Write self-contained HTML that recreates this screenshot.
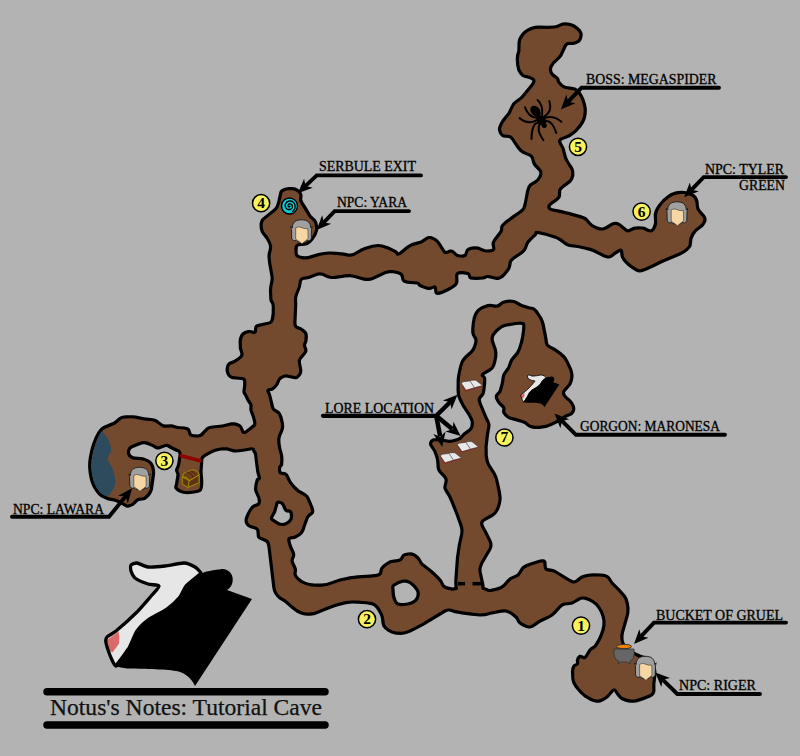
<!DOCTYPE html>
<html><head><meta charset="utf-8"><style>
html,body{margin:0;padding:0;background:#b3b3b3;}
svg{display:block;}
</style></head><body>
<svg width="800" height="756" viewBox="0 0 800 756">
<rect width="800" height="756" fill="#b3b3b3"/>
<defs><g id="cow"><path d="M131,565 C131.7,564.1 135.0,562.8 137,563 C139.0,563.2 144.7,566.6 148,567 C151.3,567.4 160.8,566.5 165,566 C169.2,565.5 180.5,562.9 184,563 C187.5,563.1 193.0,565.8 195,567 C197.0,568.2 200.5,572.1 201,573 C201.5,573.9 200.8,573.5 199,575 C197.2,576.5 188.2,583.4 186,586 C183.8,588.6 182.2,594.3 180,597 C177.8,599.7 170.7,606.3 167,609 C163.3,611.7 151.5,617.4 148,620 C144.5,622.6 139.2,627.7 137,631 C134.8,634.3 131.2,644.3 129,648 C126.8,651.7 119.5,660.9 118,663 C116.5,665.1 116.7,666.4 116,666 C115.3,665.6 113.2,662.7 112,660 C110.8,657.3 106.6,645.7 106,643 C105.4,640.3 105.8,638.4 107,637 C108.2,635.6 112.5,633.9 116,631 C119.5,628.1 132.8,616.2 137,612 C141.2,607.8 149.4,598.0 152,595 C154.6,592.0 159.5,587.3 159,586 C158.5,584.7 150.8,584.9 148,584 C145.2,583.1 137.0,579.5 135,578 C133.0,576.5 131.5,572.5 131,571 C130.5,569.5 130.3,565.9 131,565Z" fill="#e6e6e6"/><path d="M106.5,640.5 L118.5,631.5 Q120,637 119,643.5 Q116,648 112.4,652.5 L108.5,650 Z" fill="#d96a6a"/><path d="M131,565 C131.7,564.1 135.0,562.8 137,563 C139.0,563.2 144.7,566.6 148,567 C151.3,567.4 160.8,566.5 165,566 C169.2,565.5 180.5,562.9 184,563 C187.5,563.1 193.0,565.8 195,567 C197.0,568.2 200.5,572.1 201,573 C201.5,573.9 200.8,573.5 199,575 C197.2,576.5 188.2,583.4 186,586 C183.8,588.6 182.2,594.3 180,597 C177.8,599.7 170.7,606.3 167,609 C163.3,611.7 151.5,617.4 148,620 C144.5,622.6 139.2,627.7 137,631 C134.8,634.3 131.2,644.3 129,648 C126.8,651.7 119.5,660.9 118,663 C116.5,665.1 116.7,666.4 116,666 C115.3,665.6 113.2,662.7 112,660 C110.8,657.3 106.6,645.7 106,643 C105.4,640.3 105.8,638.4 107,637 C108.2,635.6 112.5,633.9 116,631 C119.5,628.1 132.8,616.2 137,612 C141.2,607.8 149.4,598.0 152,595 C154.6,592.0 159.5,587.3 159,586 C158.5,584.7 150.8,584.9 148,584 C145.2,583.1 137.0,579.5 135,578 C133.0,576.5 131.5,572.5 131,571 C130.5,569.5 130.3,565.9 131,565Z" fill="none" stroke="#000" stroke-width="3.3" stroke-linejoin="round"/><path d="M199,575 C204,571 215,570 222,569 C230,569 234,576 232.5,582 C232,586 229,589 227,590 L252,599 L195,686 C191,677 183,672 176,671 C165,669 140,669 127,668.5 L115,666.5 L118,663 C124,655 126,646 129,648 C133,638 137,631 148,620 C158,613 167,609 180,597 C184,592 186,586 199,575 Z" fill="#000"/></g></defs>
<path d="M244.3,430.9 242.0,425.9 240.2,424.2 238.2,423.2 236.0,422.6 233.6,422.2 231.3,422.3 222.2,424.4 212.5,425.4 209.5,426.0 207.5,426.8 206.0,427.8 200.1,433.8 197.8,434.4 194.3,434.3 192.4,433.9 191.6,433.4 190.2,429.6 189.6,428.5 188.4,427.5 187.1,426.9 184.2,426.4 177.8,425.9 172.0,424.2 165.5,424.5 163.8,424.3 162.2,423.4 157.0,419.5 154.2,418.4 151.2,417.9 144.1,417.3 135.9,415.6 132.9,415.2 125.5,415.2 121.3,416.0 118.6,417.4 113.9,421.6 104.4,425.6 102.4,426.6 100.6,428.0 98.8,429.9 97.2,432.2 94.5,437.6 92.0,444.1 90.4,449.6 88.9,456.8 88.2,462.1 88.1,467.5 88.7,473.5 89.9,479.6 91.0,483.3 92.5,486.8 95.2,491.3 98.2,495.0 100.6,496.9 102.9,498.2 108.1,500.4 113.8,501.6 116.8,502.5 119.5,503.7 126.1,507.5 127.0,507.8 128.3,507.8 131.2,506.8 134.2,505.2 137.8,501.7 138.8,501.1 143.8,500.3 146.0,499.4 148.0,497.8 149.7,495.9 151.8,492.7 153.0,489.5 155.1,474.4 155.1,470.3 154.3,466.6 152.8,463.3 151.4,461.5 148.6,459.4 144.4,457.7 141.5,457.1 134.2,456.5 132.0,455.6 130.5,454.0 130.1,452.3 130.2,451.1 130.9,449.4 132.4,448.2 141.2,444.7 143.1,444.2 144.7,444.2 148.6,445.5 152.3,447.1 154.9,448.8 156.8,449.5 159.2,449.4 165.7,447.0 166.9,446.9 169.3,448.4 175.9,451.7 178.1,452.5 178.4,453.3 178.4,455.4 177.5,461.8 176.8,465.3 175.4,468.4 175.0,469.8 175.2,471.5 176.2,473.8 176.4,474.8 175.0,483.7 174.2,486.5 174.3,487.9 174.7,488.9 175.7,490.1 177.0,491.2 179.2,492.4 183.1,493.8 187.2,494.2 192.9,493.8 198.3,492.8 200.6,491.8 201.6,490.9 202.2,489.8 202.9,487.7 203.2,485.0 203.3,480.8 202.6,471.5 203.4,459.5 203.8,458.4 205.4,456.9 210.1,454.2 214.3,452.3 217.5,451.3 221.2,450.6 224.8,450.4 226.9,450.5 233.5,452.4 236.3,452.6 241.6,452.1 252.0,450.3 252.7,452.5 253.7,453.6 254.0,454.7 256.1,471.2 256.7,474.1 257.7,477.4 256.3,478.3 255.7,479.5 254.5,484.1 254.0,488.4 254.0,489.8 254.6,492.1 257.3,497.9 257.8,501.7 257.3,503.0 253.4,504.5 251.5,505.7 249.1,508.9 246.7,513.3 245.1,517.0 244.5,519.8 244.7,522.5 245.8,524.8 247.0,526.2 248.4,527.3 250.5,528.3 254.9,529.6 256.0,530.2 256.4,531.3 256.8,536.6 257.4,537.9 258.2,538.8 260.3,540.1 264.4,541.7 266.1,542.7 266.5,543.4 267.0,544.9 267.6,548.6 272.3,588.1 273.2,591.6 274.2,593.8 276.2,596.5 278.9,599.2 284.0,602.3 292.4,609.4 296.5,612.4 300.0,614.2 303.4,615.3 306.8,615.8 310.4,615.8 314.2,615.2 316.3,614.5 326.8,610.2 334.8,607.3 339.0,605.9 346.0,604.3 352.1,603.6 358.0,603.7 366.1,604.3 371.3,605.2 373.5,606.1 374.9,607.2 376.4,609.0 378.0,611.4 380.0,615.3 380.8,617.7 381.4,622.8 382.0,625.5 382.7,626.9 384.4,629.1 387.5,631.6 391.4,633.5 395.8,634.7 400.8,635.0 404.3,634.6 406.4,634.0 410.6,632.4 415.0,630.3 423.7,625.8 444.9,612.9 446.6,612.0 448.2,611.6 449.6,611.6 454.9,613.2 461.8,614.4 471.4,615.8 480.0,616.6 485.5,616.2 490.8,614.8 501.2,612.7 504.4,612.5 505.7,612.6 507.0,612.9 509.5,614.1 511.9,615.7 514.9,618.2 515.9,619.4 516.9,621.6 518.0,623.3 520.1,625.0 522.6,626.5 525.5,627.8 528.4,628.6 530.3,628.6 533.3,627.6 540.8,622.4 549.8,618.2 552.9,616.3 555.8,613.7 560.7,608.2 562.8,606.4 564.9,605.6 569.7,605.1 572.6,604.5 581.2,599.8 583.2,599.6 585.5,599.9 588.9,601.2 592.2,603.0 595.3,605.6 597.9,608.7 600.0,612.4 601.6,616.8 602.4,621.1 602.3,625.3 601.4,629.6 599.9,634.0 597.8,638.7 594.7,644.1 593.4,645.5 590.4,647.5 588.7,649.0 584.9,655.3 584.2,656.1 580.6,654.7 579.4,654.8 578.0,655.8 576.7,657.6 575.9,659.7 575.8,661.0 576.1,663.0 573.2,664.6 572.0,666.3 571.3,668.6 570.9,671.4 571.3,678.9 572.3,683.2 573.6,685.6 575.2,688.1 579.7,693.3 584.5,697.5 590.5,700.9 593.3,702.1 596.2,702.8 598.8,702.8 600.3,702.5 602.7,701.6 605.0,700.3 608.5,697.8 613.3,692.3 614.2,691.6 615.8,694.2 618.4,697.4 620.8,699.7 622.8,700.7 625.4,701.7 628.2,702.4 631.1,702.8 633.8,702.8 636.6,702.4 644.2,699.9 650.3,697.4 652.8,695.9 654.1,694.7 655.0,693.0 655.5,690.8 655.4,683.9 656.6,673.9 656.2,669.7 654.8,665.1 652.4,660.1 650.4,658.0 648.5,656.9 641.5,655.1 636.9,653.1 627.6,647.9 626.3,646.6 625.2,644.6 624.3,642.3 623.6,639.7 623.5,635.7 624.0,632.7 628.7,616.2 629.4,612.9 629.6,607.8 628.8,602.8 627.5,598.3 625.4,594.7 620.2,588.9 613.2,581.9 610.0,577.1 608.0,575.2 605.1,574.0 601.3,573.5 593.6,573.3 587.7,573.8 583.8,574.7 581.3,575.6 579.0,577.0 575.3,580.0 574.0,580.4 573.2,580.3 569.9,578.8 557.2,570.9 554.7,569.6 552.0,568.8 547.5,568.1 547.0,567.6 546.8,566.9 546.5,562.2 546.0,560.7 544.6,559.5 543.3,559.2 542.0,559.2 539.0,559.7 529.6,562.7 526.8,563.7 524.2,565.0 522.0,566.6 521.0,567.8 518.2,572.3 516.9,573.8 515.4,574.7 511.3,576.4 509.1,577.7 506.9,579.7 503.2,584.1 501.2,585.6 500.0,586.2 495.5,587.8 489.9,588.9 488.7,588.8 487.0,587.9 484.7,587.2 484.4,584.3 481.6,571.4 481.6,569.1 481.9,567.3 483.1,564.0 491.4,549.7 492.4,546.8 492.6,545.0 492.4,543.1 491.3,539.9 486.7,530.8 484.3,526.6 483.4,524.3 483.3,523.4 483.5,522.7 484.0,521.9 485.2,521.0 492.7,516.9 494.5,515.6 496.2,514.1 497.3,512.5 499.2,509.2 500.5,505.6 501.3,501.9 501.7,498.2 501.1,492.6 498.7,481.4 497.6,477.3 495.6,472.7 491.4,466.3 489.6,463.2 488.6,460.1 487.8,455.2 487.7,446.6 489.1,434.6 490.4,427.1 490.5,424.5 489.6,421.3 487.6,417.2 481.7,403.2 480.8,399.7 481.1,398.7 483.5,396.0 484.3,394.7 484.9,393.1 485.5,389.8 486.2,383.8 486.3,378.7 486.1,377.5 485.5,376.4 484.2,375.1 490.8,371.3 493.3,369.1 495.0,366.3 496.3,362.3 497.4,356.3 497.4,352.0 496.7,348.4 494.0,341.1 493.7,338.6 494.1,336.8 494.7,335.6 497.5,332.1 501.7,328.6 503.8,327.5 505.9,326.8 515.9,325.1 519.6,324.8 522.2,325.0 522.1,329.6 521.1,336.7 519.5,343.4 518.0,348.2 516.1,352.1 510.3,359.1 509.3,361.3 507.4,366.8 503.5,372.2 502.4,374.3 501.7,376.6 500.9,382.2 498.9,389.8 498.2,391.2 495.5,394.1 494.7,396.0 494.7,397.3 495.1,399.1 497.0,402.6 498.2,404.3 502.3,408.2 502.0,411.2 502.1,412.4 502.8,414.0 504.6,416.3 507.0,418.3 509.2,419.4 521.0,422.7 524.3,423.9 527.7,426.8 529.5,427.8 531.4,428.4 534.4,428.9 539.6,429.0 546.2,427.9 551.6,426.0 558.8,422.4 566.7,417.4 571.5,415.6 572.9,414.4 574.0,413.1 574.8,411.6 575.3,409.8 575.3,408.0 574.9,406.1 573.2,402.5 571.0,399.8 566.8,396.0 565.5,394.2 565.1,393.1 565.1,392.4 565.6,391.4 570.8,385.7 571.9,383.4 572.8,380.9 573.5,377.1 573.5,374.4 573.0,371.7 572.2,368.9 568.4,360.7 566.5,357.6 564.9,355.5 561.9,352.8 558.6,350.3 555.3,348.0 549.9,345.2 548.4,343.7 548.0,342.6 547.5,338.4 544.7,324.1 543.8,321.1 542.2,317.6 539.6,313.4 537.7,310.6 535.4,308.2 533.3,307.1 530.0,306.4 522.1,303.9 517.3,301.2 515.1,300.2 512.4,299.7 509.6,299.6 505.6,300.1 503.0,300.7 501.0,301.7 497.9,304.1 496.8,304.6 495.4,304.6 490.1,303.7 487.5,304.1 484.8,304.9 481.9,306.0 479.5,307.4 477.4,309.1 475.7,311.0 474.3,313.3 472.8,317.2 471.8,322.6 471.2,328.8 471.2,332.3 471.5,333.9 472.0,335.4 474.3,339.7 474.3,341.4 473.9,343.6 472.7,347.1 470.8,350.2 464.2,356.2 462.0,358.9 460.7,361.3 459.2,366.0 457.9,371.2 456.9,376.9 456.6,380.6 456.5,390.0 456.8,394.1 457.2,396.3 459.1,400.9 461.9,406.4 467.5,414.9 469.8,419.2 470.5,421.4 470.7,422.8 470.5,425.2 470.1,426.7 469.0,428.6 462.9,433.1 460.0,436.5 457.1,438.0 452.1,439.5 449.0,439.8 441.8,438.4 437.2,438.1 433.9,438.2 432.6,438.5 431.0,439.5 429.8,440.8 429.1,442.4 429.0,444.3 429.3,445.5 433.3,451.8 435.4,457.6 436.1,460.8 436.6,467.6 437.4,470.7 439.2,473.3 443.4,477.8 444.5,479.5 444.6,481.1 443.3,486.7 443.4,488.3 443.8,489.6 445.0,492.0 447.9,496.5 450.4,501.9 455.6,515.1 459.4,525.7 460.1,528.2 460.4,531.0 460.1,534.3 457.8,544.6 455.9,557.4 454.3,579.5 454.2,583.4 454.5,587.1 452.8,587.5 450.4,587.1 447.3,586.3 445.0,585.2 444.2,584.3 442.0,580.0 439.5,577.0 433.0,570.8 423.1,562.9 422.0,561.4 419.9,557.8 418.5,556.2 416.2,554.3 414.5,553.2 412.4,552.5 411.2,552.3 407.6,552.4 404.2,553.2 402.1,554.4 400.0,557.9 399.3,558.6 397.6,559.0 390.8,560.0 389.3,560.6 386.8,561.9 383.5,564.3 380.8,566.9 379.7,569.2 379.1,572.6 378.0,573.3 376.5,573.7 370.3,574.6 357.9,575.2 349.7,576.3 339.6,578.5 326.4,582.9 321.3,583.6 314.4,583.5 310.1,583.0 307.6,582.4 305.4,581.7 302.5,580.2 299.0,577.5 297.6,575.9 296.6,574.0 297.0,570.7 296.9,568.6 296.1,566.4 294.1,562.3 293.7,560.8 293.8,559.8 295.1,556.6 295.3,554.3 294.7,552.1 292.1,546.2 290.8,541.9 290.4,539.6 291.0,539.4 294.7,539.0 296.0,538.5 300.5,535.8 302.9,533.4 304.6,530.2 305.9,525.9 308.9,518.1 309.7,516.9 313.4,514.1 314.3,512.1 314.4,510.4 313.7,507.8 309.8,498.2 308.2,495.5 305.6,493.3 299.5,489.8 295.4,486.0 292.0,482.1 290.1,478.6 288.2,474.6 286.8,473.0 284.9,472.1 281.7,471.8 281.4,471.6 281.1,470.0 281.2,467.6 282.5,466.4 283.2,464.9 283.5,459.3 283.1,454.7 281.6,449.5 281.0,446.4 280.5,442.8 280.4,439.3 281.1,436.1 283.2,431.2 284.0,428.7 284.2,426.0 283.9,422.7 282.5,416.7 280.8,412.9 279.2,411.1 275.0,408.5 274.3,407.4 271.7,396.7 270.8,393.6 269.7,391.3 271.6,391.0 273.1,390.4 275.8,388.2 278.6,384.8 280.5,380.3 282.4,378.7 284.4,377.8 286.3,377.5 294.9,379.3 296.6,379.3 298.1,378.6 299.9,376.8 301.2,375.0 302.1,373.0 302.4,370.2 300.9,362.2 301.0,360.8 301.3,359.8 306.4,353.6 307.4,351.5 307.4,349.3 306.0,345.3 307.5,341.3 307.9,337.5 307.8,335.2 307.4,333.3 307.0,332.2 305.1,330.0 301.6,327.5 297.3,325.8 296.7,324.7 296.5,322.6 297.3,304.6 297.1,298.2 297.9,295.1 300.9,287.3 302.0,281.3 302.4,280.5 303.2,280.1 309.2,279.1 316.2,276.2 318.8,275.5 320.0,275.4 322.1,275.8 327.5,278.3 331.1,279.1 335.6,278.9 345.3,277.4 349.9,277.2 354.3,278.0 363.7,280.7 366.2,281.0 369.0,281.0 371.7,280.5 374.3,279.6 385.9,274.0 389.6,273.2 393.1,273.3 397.6,274.2 400.2,275.6 400.7,276.8 401.5,280.3 402.3,281.6 403.7,282.7 407.1,283.7 417.1,284.6 417.5,284.7 418.2,286.2 419.3,287.0 423.8,288.8 427.7,289.9 430.3,290.0 434.0,288.6 434.3,292.2 434.9,293.7 435.7,294.4 436.8,294.8 437.9,294.9 439.9,294.7 443.5,293.5 449.4,290.7 453.0,288.6 456.2,286.2 457.4,284.8 458.2,283.2 458.5,281.4 458.3,275.6 458.5,274.9 459.0,274.5 462.6,274.2 467.4,275.0 467.6,275.2 468.4,277.8 469.1,278.8 470.4,279.5 472.0,279.8 476.9,280.0 483.1,279.6 485.0,279.2 486.6,278.2 487.5,278.1 496.5,279.9 498.3,279.9 499.8,279.6 501.6,278.8 503.2,277.7 505.7,275.3 509.8,269.9 511.0,267.2 511.8,262.8 512.7,261.0 515.0,259.0 521.8,254.5 524.7,252.1 526.5,249.4 528.3,244.8 529.3,242.9 531.9,240.0 536.7,235.6 537.5,234.1 546.5,236.1 556.4,239.3 559.3,240.9 565.4,245.5 568.3,246.8 571.0,247.3 577.7,248.1 584.3,249.5 589.7,250.9 593.3,252.2 603.7,257.4 607.4,258.6 609.5,258.6 612.1,257.6 615.7,254.7 620.1,251.9 620.4,255.4 620.9,257.5 622.3,260.0 624.0,262.2 627.8,265.9 631.6,268.8 635.9,271.5 637.8,272.2 639.1,272.4 641.9,272.2 646.1,270.8 653.4,267.5 663.0,262.7 680.3,255.5 685.2,252.8 687.8,250.8 690.0,248.6 691.2,246.8 691.7,245.6 692.5,239.1 694.3,235.0 695.9,232.7 697.1,231.3 702.5,227.3 704.0,225.7 705.9,222.5 706.5,220.9 706.6,219.4 706.3,217.5 704.9,214.9 700.4,209.8 699.5,208.3 699.0,206.6 698.5,201.1 697.8,199.1 696.5,196.6 695.1,195.1 693.4,193.8 691.1,192.7 688.5,191.8 684.4,190.9 681.8,190.8 677.8,191.0 675.2,191.5 671.6,192.8 669.2,194.1 666.0,196.4 662.9,199.1 658.2,204.5 656.2,207.6 654.8,210.2 654.0,213.1 653.7,215.3 654.0,221.7 653.8,223.7 652.5,227.5 651.5,228.8 650.5,229.4 649.1,229.0 644.5,226.8 642.1,226.4 638.8,226.2 635.6,226.4 633.4,226.8 628.8,229.0 627.6,229.3 620.5,223.4 618.2,222.3 616.0,221.7 613.6,222.0 611.3,222.8 605.9,226.1 603.4,227.2 602.3,227.4 600.1,227.2 596.3,226.0 592.9,224.2 591.2,222.8 587.1,218.1 585.8,217.1 583.3,215.9 580.6,215.0 569.7,212.1 559.3,209.6 552.3,208.2 550.9,207.6 550.4,207.2 550.9,206.1 551.8,205.0 557.8,200.7 560.0,198.5 560.8,197.0 561.1,195.8 561.2,191.3 561.8,189.7 563.7,187.9 569.8,183.5 571.3,182.2 573.1,179.5 574.4,175.7 574.3,171.6 573.6,168.7 572.8,167.0 569.1,161.4 567.7,158.8 566.7,156.1 564.5,147.7 561.5,142.2 561.3,141.0 563.2,139.8 567.4,138.3 570.3,136.9 574.5,134.0 577.6,131.3 581.3,126.9 583.9,123.0 585.7,118.9 586.6,114.5 586.9,111.5 586.8,108.5 586.0,103.9 584.0,98.1 582.2,94.4 580.6,92.0 577.8,89.0 575.2,87.5 571.9,86.7 566.2,85.9 564.3,85.2 562.8,84.2 559.9,81.1 559.5,78.9 558.6,77.3 553.2,73.1 552.4,71.6 552.1,69.9 552.3,67.8 554.0,64.8 555.1,63.4 560.6,58.3 562.2,56.2 567.2,45.7 568.6,45.1 573.4,44.9 576.7,44.0 579.2,42.8 580.8,41.2 581.7,39.4 582.4,37.3 582.7,34.9 582.6,33.6 582.2,32.2 581.1,30.1 578.1,27.0 574.7,24.6 572.2,23.5 569.5,22.8 565.4,22.3 563.0,22.4 561.7,22.8 556.5,24.9 553.8,25.5 547.8,25.8 538.4,25.5 535.1,25.8 532.2,26.5 529.5,27.5 527.0,28.7 524.8,30.3 522.7,32.1 520.8,34.3 519.3,36.7 518.1,39.2 517.5,42.4 517.3,50.6 516.0,55.3 515.7,58.7 516.1,65.0 517.1,69.7 517.8,71.5 519.3,73.9 520.6,75.6 522.0,76.8 524.2,77.8 529.3,79.1 531.8,80.3 532.3,80.8 532.3,81.3 531.3,83.2 527.6,88.0 521.6,95.3 519.7,97.2 514.5,100.9 512.6,102.7 511.8,103.9 507.6,112.4 502.1,119.3 499.6,123.6 498.2,127.0 497.9,129.1 498.0,130.4 499.0,133.6 501.0,136.3 503.1,137.5 508.5,138.1 509.8,138.5 511.3,140.0 516.9,148.5 519.7,151.7 522.1,153.6 528.6,156.3 530.2,157.3 531.0,158.6 532.0,162.6 533.0,164.9 534.8,167.2 538.5,171.1 539.2,172.5 539.3,173.9 538.4,176.3 536.6,178.9 535.0,180.2 530.0,183.3 528.7,184.6 527.6,186.2 526.1,190.6 523.9,202.5 522.6,207.0 522.0,208.2 518.9,211.0 511.8,215.8 505.4,220.6 502.1,223.5 500.6,225.4 500.2,226.6 500.0,229.5 499.6,230.7 493.7,238.5 492.0,241.4 491.6,242.9 491.5,244.2 492.2,248.2 492.0,248.7 490.1,249.3 486.2,249.4 484.4,249.0 478.4,246.6 475.8,246.3 471.8,246.6 468.3,247.6 466.3,248.9 465.5,250.2 464.4,253.7 464.1,254.1 462.3,254.5 459.6,254.4 457.5,253.7 453.9,250.5 451.9,249.5 450.7,249.4 449.6,249.6 446.1,251.0 445.0,249.9 440.3,242.4 438.2,239.9 435.7,238.0 433.5,236.9 431.2,236.1 429.0,235.9 427.6,236.2 426.3,236.7 420.7,240.4 412.4,242.8 409.3,244.2 406.1,246.3 400.1,251.3 398.4,252.4 397.8,251.4 396.8,250.5 388.8,246.6 382.4,244.4 378.0,243.9 372.1,244.7 364.5,246.9 360.8,248.5 354.1,252.4 352.7,253.0 350.4,253.6 348.5,253.6 344.0,252.6 336.5,251.7 331.6,251.4 328.4,251.5 323.8,252.0 318.0,253.0 308.1,256.0 304.5,256.3 300.9,255.8 299.1,255.2 298.0,254.2 297.6,252.2 297.8,247.2 298.1,246.7 298.9,246.3 304.9,245.8 307.8,244.9 310.9,242.7 313.4,239.9 316.6,235.0 318.1,230.6 318.3,227.0 317.4,222.6 315.9,219.5 312.1,216.1 311.0,214.8 307.0,207.8 303.1,201.7 302.2,199.5 302.6,195.8 302.3,193.9 301.3,191.9 299.2,189.7 297.5,188.5 295.5,187.6 292.3,187.1 289.0,187.0 286.0,187.5 283.9,188.1 281.4,189.3 280.0,190.6 279.3,192.1 277.0,202.5 275.6,206.2 274.4,207.9 273.0,209.2 262.2,217.9 261.4,218.8 260.3,220.7 259.8,222.5 259.5,224.3 259.7,228.6 260.8,232.2 261.9,234.1 266.1,239.5 268.4,244.1 269.0,246.8 268.9,248.6 267.7,253.3 267.4,256.3 268.0,262.8 270.6,277.4 270.4,280.6 269.2,286.7 268.9,290.7 269.3,299.7 269.7,301.2 271.4,304.2 271.7,306.9 271.6,313.4 270.7,319.3 269.9,320.9 268.9,321.4 258.3,323.8 256.1,324.6 255.2,325.3 254.4,326.5 254.1,328.4 253.9,330.8 250.1,329.9 248.0,330.0 244.6,331.0 242.9,332.0 241.6,333.1 240.5,334.6 239.6,336.4 238.8,339.1 238.6,341.4 238.8,348.5 240.3,353.3 240.3,354.9 238.7,356.7 233.8,359.9 229.9,361.5 228.2,362.4 227.3,363.4 226.4,365.1 225.6,368.4 225.6,370.9 226.3,373.8 227.9,376.5 229.7,378.1 231.0,378.8 232.5,379.2 241.9,380.0 242.8,380.4 243.1,381.0 243.1,385.4 242.4,391.0 242.5,392.9 243.0,394.1 244.2,395.7 246.9,401.4 249.4,405.1 249.3,408.7 249.5,410.7 252.1,418.1 253.0,421.5 253.2,423.5 253.2,424.1 249.7,427.1 245.9,430.0ZM395.0,586.2 399.2,584.0 403.1,582.7 405.9,582.7 407.6,583.2 409.4,584.1 411.8,586.0 413.5,587.7 415.1,589.7 416.2,591.6 416.6,593.2 416.5,594.9 416.0,596.7 415.2,598.3 414.2,599.5 412.7,600.6 410.8,601.5 407.7,602.4 404.0,603.0 401.5,603.0 399.4,602.8 398.1,602.2 397.2,601.3 396.5,600.0 395.1,595.8 394.4,587.3 394.5,586.8ZM278.5,503.7 280.2,504.1 281.4,504.9 282.0,505.9 283.5,509.6 284.8,511.4 286.6,512.4 289.3,512.7 289.6,513.4 289.9,516.4 289.8,517.7 289.3,518.7 288.6,519.8 287.1,521.2 284.7,522.4 281.8,522.9 279.9,522.5 276.9,520.8 273.1,518.2 273.3,517.4 276.2,512.2Z" fill="#000" fill-rule="evenodd"/>
<path d="M177.4,487.1 178.3,488.1 180.6,489.5 183.2,490.5 185.4,490.9 188.3,491.0 194.0,490.4 197.4,489.8 199.0,489.0 199.8,487.0 200.1,484.9 200.1,480.9 199.4,471.5 200.5,458.1 201.3,456.5 202.9,454.8 208.6,451.4 211.9,449.8 215.5,448.5 222.1,447.3 224.8,447.2 227.3,447.3 233.1,449.0 236.2,449.4 244.8,448.4 250.8,447.2 253.2,447.4 254.5,448.3 255.6,451.0 256.4,451.6 256.9,453.0 259.2,470.7 261.0,477.5 261.0,478.6 260.5,479.7 259.9,480.2 258.7,480.6 257.6,484.7 257.2,488.4 257.6,491.1 260.3,497.0 260.9,499.9 261.0,501.9 260.5,503.9 259.4,505.5 258.2,506.2 254.1,507.7 252.4,509.6 250.6,512.6 248.5,517.2 247.7,520.0 247.8,521.6 248.8,523.4 250.2,524.7 256.1,526.6 258.2,528.0 259.1,529.3 259.5,530.7 259.8,535.1 260.1,536.2 260.9,536.8 265.1,538.4 267.6,539.8 268.6,540.6 269.5,542.2 270.1,544.1 270.6,546.7 275.5,587.6 276.2,590.5 277.0,592.2 278.6,594.4 281.0,596.8 286.0,599.7 294.5,607.0 298.1,609.6 301.3,611.3 304.2,612.2 307.1,612.6 310.1,612.6 313.5,612.1 315.4,611.5 325.6,607.2 335.2,603.7 339.6,602.4 345.5,601.1 351.9,600.4 358.1,600.5 366.5,601.2 372.0,602.1 375.1,603.3 377.0,604.8 379.0,607.0 380.7,609.7 382.9,614.0 383.9,616.8 385.0,624.4 386.6,626.8 389.3,628.9 392.5,630.5 396.3,631.5 400.6,631.8 403.7,631.4 405.4,631.0 409.3,629.4 413.6,627.5 422.1,623.0 443.3,610.1 445.5,609.0 447.9,608.4 450.2,608.5 455.5,610.1 462.3,611.2 471.8,612.6 480.0,613.4 484.9,613.0 490.1,611.7 500.8,609.6 504.4,609.3 506.4,609.4 508.1,609.9 511.1,611.2 515.0,614.1 518.0,616.7 520.1,620.8 521.8,622.3 526.5,624.8 528.9,625.4 529.8,625.4 530.7,625.2 532.8,624.1 539.3,619.6 548.3,615.4 551.0,613.7 553.5,611.5 558.5,605.9 561.3,603.6 564.2,602.4 569.3,601.9 571.5,601.5 573.7,600.4 577.5,598.0 580.3,596.7 583.2,596.4 586.1,596.7 590.3,598.2 594.1,600.4 597.5,603.3 600.5,606.9 602.9,611.1 604.7,615.9 605.6,620.9 605.5,625.7 604.5,630.4 602.9,635.2 600.7,640.2 597.3,645.9 595.5,648.0 591.2,651.1 587.6,657.0 585.9,658.8 584.6,659.3 583.5,659.3 580.3,658.0 579.0,660.4 579.3,662.9 578.9,664.5 577.7,665.8 575.5,666.8 575.0,667.5 574.2,670.7 574.3,677.2 574.6,679.7 575.3,681.9 577.0,685.1 581.2,690.2 585.4,694.2 588.3,696.1 591.8,698.0 594.3,699.0 596.5,699.6 598.4,699.6 600.4,699.1 604.4,696.9 607.2,694.5 611.2,690.0 612.3,689.0 613.6,688.4 615.0,688.4 616.5,689.4 618.3,692.3 621.4,695.9 622.5,697.0 626.4,698.6 631.3,699.6 634.7,699.5 639.6,698.1 647.9,695.0 650.4,693.7 651.6,692.7 652.3,690.4 652.2,683.7 653.3,675.1 653.4,672.6 653.1,670.4 652.2,667.2 649.7,661.8 648.5,660.6 647.3,659.9 640.7,658.2 638.4,657.4 626.7,651.2 624.7,649.6 623.8,648.5 621.7,644.7 620.5,640.1 620.3,635.4 620.9,631.9 625.6,615.4 626.3,612.4 626.4,607.9 625.7,603.5 624.5,599.6 622.8,596.7 617.9,591.1 610.8,584.0 607.5,579.1 606.2,577.9 604.2,577.1 599.2,576.5 592.1,576.6 588.1,577.0 584.7,577.8 581.8,578.9 578.0,582.0 575.7,583.3 574.1,583.6 572.5,583.4 571.0,582.9 568.3,581.6 555.6,573.6 553.4,572.5 551.5,571.9 547.2,571.4 545.8,570.8 544.8,570.1 544.0,568.8 543.7,567.3 543.2,562.5 542.2,562.4 539.9,562.8 530.6,565.7 525.9,567.7 525.0,568.3 523.5,569.8 520.8,574.1 519.0,576.2 516.9,577.6 512.7,579.3 511.0,580.3 505.3,586.4 502.9,588.3 501.3,589.2 498.1,590.4 494.7,591.3 491.5,591.9 489.0,592.1 487.5,591.8 485.0,590.5 482.4,590.0 481.5,589.0 481.2,584.9 478.5,571.8 478.4,568.9 478.8,566.6 480.3,562.5 488.5,548.4 489.3,546.1 489.4,545.0 489.3,543.8 488.4,541.2 483.9,532.3 480.8,526.6 480.2,524.9 480.1,523.1 480.6,521.3 481.9,519.6 485.2,517.3 491.1,514.1 493.8,511.9 495.6,509.3 496.9,506.3 498.2,501.4 498.5,498.3 497.9,493.2 495.6,482.1 494.6,478.3 492.8,474.3 488.7,468.0 486.8,464.6 485.4,460.8 484.6,455.4 484.5,446.4 485.3,439.1 486.1,432.7 487.3,426.7 487.3,424.8 486.7,422.5 484.6,418.5 478.7,404.3 477.8,401.3 477.6,399.7 477.8,398.3 478.3,397.0 481.4,393.3 482.1,391.0 482.6,387.5 483.1,379.1 482.8,378.1 480.8,376.2 480.6,375.2 480.8,374.4 481.3,373.5 482.3,372.5 490.2,367.8 491.6,366.1 492.9,362.8 494.2,355.9 494.2,352.4 493.7,349.4 490.9,341.9 490.5,339.6 490.6,337.6 491.0,335.8 492.0,333.8 494.2,331.0 496.3,328.8 499.9,326.0 502.4,324.6 505.1,323.7 509.0,322.9 515.5,321.9 520.7,321.6 523.0,321.9 524.1,322.2 524.9,323.0 525.3,324.0 525.4,328.3 524.5,335.5 523.1,342.5 520.9,349.4 518.8,353.9 513.1,360.7 512.3,362.4 510.2,368.3 506.2,374.0 505.3,375.6 504.8,377.2 504.1,382.9 501.9,390.9 500.9,393.0 498.1,396.0 497.9,396.5 498.5,398.7 500.1,401.6 504.0,405.2 505.2,406.7 505.6,408.8 505.2,411.6 506.9,414.0 508.8,415.7 510.3,416.5 518.0,418.5 524.9,420.7 526.7,421.7 529.6,424.2 530.6,424.8 534.8,425.7 539.3,425.8 542.9,425.3 546.8,424.4 553.7,421.5 558.1,419.1 565.2,414.6 569.9,412.8 571.3,411.3 572.2,409.3 571.9,407.0 570.5,404.1 568.8,402.1 564.3,398.0 562.4,395.2 561.9,393.4 562.0,391.7 562.9,389.7 568.1,383.9 569.4,381.1 570.2,377.9 570.3,375.7 570.2,373.6 569.2,370.1 565.6,362.2 563.9,359.4 562.5,357.7 559.9,355.2 554.7,351.4 547.3,347.2 545.6,345.3 544.8,343.2 544.3,339.0 541.5,324.8 540.8,322.2 539.4,319.1 537.5,316.0 535.1,312.6 533.5,310.7 532.3,310.1 529.2,309.4 520.9,306.9 514.0,303.2 512.1,302.8 509.8,302.8 506.2,303.2 503.3,304.0 499.5,306.9 497.4,307.8 495.1,307.8 490.1,306.9 485.8,307.9 483.3,308.9 481.2,310.1 479.6,311.4 478.3,312.9 476.8,315.6 475.6,319.5 474.9,323.1 474.4,328.9 474.6,333.1 475.3,334.9 477.0,337.7 477.5,339.2 477.5,341.6 477.0,344.5 475.6,348.4 474.1,351.1 472.1,353.4 466.6,358.4 464.7,360.7 463.6,362.6 462.2,366.8 461.0,371.8 460.1,377.3 459.7,382.6 459.7,389.8 460.3,395.4 462.0,399.5 464.7,404.9 470.2,413.2 473.1,418.8 473.7,420.8 473.9,423.7 473.7,425.8 473.2,427.7 472.1,429.8 470.5,431.6 465.0,435.6 462.7,438.3 461.5,439.4 458.2,441.0 452.8,442.6 448.9,443.0 441.5,441.6 435.1,441.3 433.9,441.5 433.1,442.0 432.2,443.2 432.2,444.0 432.6,444.9 436.2,450.5 438.1,455.6 439.3,460.4 439.8,467.1 440.4,469.3 441.7,471.3 446.0,475.8 447.5,478.4 447.8,480.0 447.8,481.3 446.6,486.0 446.6,487.7 446.8,488.5 450.8,495.0 453.4,500.7 458.6,514.0 462.5,524.7 463.3,527.7 463.6,531.1 463.2,534.8 460.9,545.2 459.1,557.7 457.5,579.7 457.4,583.4 457.6,586.7 458.0,588.6 457.7,589.5 457.0,590.1 453.3,590.7 450.8,590.4 446.3,589.4 443.0,587.8 441.4,586.0 439.8,582.6 438.7,581.0 435.2,577.2 429.8,572.2 420.9,565.2 419.3,563.1 417.3,559.6 415.6,557.9 413.0,556.0 410.9,555.5 408.1,555.5 404.8,556.4 404.2,557.0 402.6,559.8 401.8,560.7 400.6,561.5 398.2,562.2 391.6,563.1 388.6,564.6 385.5,566.8 383.3,569.0 382.8,570.0 382.3,573.3 381.9,574.2 381.2,575.1 379.3,576.2 377.2,576.9 370.5,577.8 358.2,578.4 350.2,579.5 340.4,581.5 327.1,586.0 323.4,586.6 319.6,586.9 315.9,586.8 311.0,586.4 305.5,585.1 300.8,582.9 298.7,581.4 296.7,579.7 294.5,576.9 293.5,574.8 293.3,573.6 293.8,570.4 293.7,569.2 291.2,563.6 290.5,561.2 290.7,559.0 292.0,555.8 292.1,554.7 291.7,553.3 289.4,548.2 288.0,543.9 287.4,541.5 287.2,539.1 287.6,538.0 288.6,536.9 290.5,536.2 293.3,536.0 294.7,535.6 297.8,533.8 299.9,532.1 301.2,530.0 304.8,519.7 306.1,516.5 307.5,514.6 310.9,512.1 311.2,510.9 310.2,507.6 306.8,499.4 305.8,497.6 303.9,496.0 297.6,492.4 293.0,488.2 289.3,483.8 287.2,480.0 285.8,476.8 284.8,475.5 280.1,474.6 279.1,473.9 278.5,472.8 277.9,470.3 278.0,467.0 278.7,465.5 280.0,464.3 280.3,459.4 280.0,455.3 278.3,449.3 277.6,445.7 277.2,441.9 277.2,439.2 277.6,436.3 280.2,430.0 280.8,428.0 281.0,426.1 280.7,423.2 279.4,417.7 278.0,414.6 276.8,413.2 274.4,412.0 272.8,410.8 271.4,408.7 270.6,406.2 268.7,397.6 267.8,394.8 266.6,392.3 266.3,391.0 266.5,389.7 267.3,388.8 268.3,388.3 271.2,387.8 273.6,385.9 275.8,383.2 277.9,378.5 279.2,377.1 280.8,375.9 283.5,374.7 286.3,374.3 295.8,376.2 297.5,374.7 298.4,373.5 299.0,372.0 299.1,369.3 297.8,362.6 297.8,360.3 298.7,358.0 303.3,352.4 304.3,350.7 304.3,350.0 303.2,347.1 302.8,345.3 303.1,343.8 304.3,340.7 304.6,335.5 304.2,333.8 303.0,332.4 300.1,330.3 296.9,329.2 295.3,328.3 294.4,327.3 293.6,325.5 293.3,322.5 294.1,304.6 293.9,298.9 294.5,295.3 297.9,286.4 299.0,280.3 300.1,278.3 302.2,277.1 308.3,276.0 316.6,272.7 320.0,272.2 323.1,272.8 328.5,275.3 331.4,275.9 335.3,275.7 345.0,274.2 350.0,274.0 355.1,274.9 364.4,277.5 366.6,277.8 368.6,277.8 370.8,277.4 373.0,276.6 385.0,270.9 389.3,270.1 393.4,270.1 398.6,271.2 401.6,272.6 402.7,273.5 403.5,274.8 404.5,279.1 405.2,279.9 406.1,280.2 409.2,280.7 417.9,281.5 419.8,282.4 420.8,284.1 424.8,285.7 428.3,286.8 430.3,286.7 433.6,285.4 434.6,285.3 435.7,285.6 436.9,287.0 437.4,291.6 439.3,291.5 442.2,290.5 447.9,287.8 451.2,285.9 453.9,284.0 454.7,283.1 455.3,281.2 455.1,275.5 455.4,273.9 456.5,272.3 458.0,271.4 459.5,271.1 462.8,271.0 465.9,271.4 468.6,272.0 469.7,272.7 470.4,273.6 471.2,276.3 472.3,276.6 476.9,276.8 482.8,276.4 483.8,276.2 485.5,275.2 487.4,274.9 489.0,275.1 496.6,276.7 499.0,276.5 500.0,276.0 503.4,273.1 507.1,268.2 507.9,266.4 508.7,261.7 509.3,260.4 510.3,259.0 513.1,256.5 519.9,251.9 522.3,249.9 523.7,248.0 525.4,243.5 526.7,241.0 529.7,237.7 534.3,233.4 534.4,232.1 534.7,231.4 536.0,230.8 539.7,231.2 544.5,232.3 555.4,235.5 557.7,236.4 561.1,238.2 566.0,242.1 568.1,243.3 570.4,244.0 578.3,244.9 585.0,246.4 590.6,247.8 594.6,249.3 605.0,254.5 608.0,255.4 609.0,255.4 610.6,254.8 613.8,252.1 618.7,249.0 620.4,248.5 621.6,248.7 622.7,249.7 623.1,250.8 623.9,256.4 625.9,259.5 629.1,262.7 632.5,265.5 637.3,268.6 639.4,269.2 641.2,269.1 644.9,267.8 652.0,264.6 661.7,259.7 679.0,252.6 683.4,250.2 687.0,247.2 688.0,246.0 688.6,244.6 689.4,238.3 690.1,236.2 691.5,233.3 693.4,230.7 694.9,229.0 701.0,224.3 702.7,221.9 703.4,219.4 703.3,218.6 702.2,216.7 697.9,211.8 696.5,209.5 695.9,207.0 695.4,201.9 693.8,198.4 692.9,197.4 691.7,196.5 687.6,194.9 683.9,194.1 681.7,194.0 678.2,194.2 674.9,194.9 672.9,195.7 669.9,197.4 665.2,201.3 662.4,204.3 660.1,207.4 658.5,210.0 657.6,212.2 656.9,215.6 657.2,223.2 656.7,225.5 655.8,227.9 654.7,230.0 653.8,231.1 652.0,232.3 650.6,232.6 647.9,231.9 643.6,229.9 641.8,229.5 638.8,229.4 635.1,229.7 629.1,232.3 626.9,232.4 625.2,231.5 618.8,226.1 617.7,225.5 615.8,224.9 614.3,225.1 612.6,225.7 607.4,228.9 604.3,230.3 602.5,230.6 599.4,230.4 595.1,228.9 591.1,226.8 589.0,225.1 585.0,220.5 582.1,218.9 569.0,215.2 558.6,212.7 551.3,211.3 549.1,210.3 547.6,208.8 547.3,207.7 547.3,206.2 547.7,205.1 548.8,203.5 550.8,201.7 555.9,198.2 557.4,196.6 557.9,195.2 558.0,190.8 558.4,189.3 559.2,187.9 561.7,185.4 568.9,180.0 570.2,178.1 571.2,175.2 571.2,172.0 570.6,169.8 564.7,160.0 563.6,157.0 561.5,148.8 558.1,142.4 558.0,141.0 558.3,139.7 559.3,138.4 560.6,137.5 567.5,134.8 569.6,133.6 573.5,130.7 576.1,128.1 579.6,123.8 581.7,120.3 583.0,116.7 583.7,111.4 583.5,107.4 582.1,102.0 580.0,97.1 577.3,93.0 575.8,91.5 573.9,90.5 571.4,89.9 565.3,89.0 562.8,88.0 560.1,86.1 557.0,82.6 556.2,79.3 552.1,76.5 550.2,74.3 549.1,71.7 548.9,70.0 548.9,68.3 549.6,65.9 551.5,62.9 552.9,61.2 558.2,56.2 559.5,54.5 564.0,44.8 564.9,43.5 566.2,42.5 567.3,42.1 572.8,41.8 575.0,41.2 576.9,40.5 578.1,39.5 579.3,36.5 579.5,34.1 578.4,32.0 576.0,29.4 573.1,27.4 571.1,26.5 568.9,25.9 565.4,25.5 562.6,25.8 557.6,27.9 554.2,28.6 547.9,29.0 540.0,28.7 535.7,29.0 530.8,30.4 528.7,31.5 526.8,32.8 525.0,34.3 523.4,36.2 522.1,38.2 521.1,40.3 520.6,44.0 520.5,51.1 519.2,55.9 518.9,58.8 519.3,64.7 520.1,68.7 521.9,72.1 523.9,74.2 525.1,74.7 529.8,75.8 532.7,77.2 534.3,78.2 535.5,80.0 535.6,81.1 535.4,82.1 534.6,84.0 533.2,85.9 525.0,96.3 521.8,99.6 516.6,103.3 515.0,104.8 513.8,106.7 510.3,114.2 504.7,121.2 502.9,124.1 501.3,127.7 501.2,129.9 501.8,132.1 502.7,133.4 503.6,134.2 504.7,134.6 510.1,135.1 511.4,135.7 512.4,136.5 513.9,138.2 516.1,141.7 520.3,147.6 522.7,150.1 524.7,151.3 530.1,153.5 532.4,155.1 533.9,157.3 535.1,161.6 535.8,163.3 540.2,168.1 541.9,170.4 542.4,171.9 542.4,174.3 542.1,175.7 541.2,177.8 538.9,181.1 536.8,182.9 532.0,185.7 530.4,187.8 529.2,191.3 526.6,204.9 525.4,208.7 524.5,210.1 523.1,211.7 520.8,213.5 513.7,218.4 507.4,223.1 504.4,225.7 503.4,227.0 503.2,230.1 502.4,232.4 496.3,240.4 495.0,242.6 494.8,244.2 495.4,247.9 495.4,249.1 494.8,250.5 493.7,251.4 492.7,251.9 490.5,252.5 485.9,252.6 483.4,252.0 477.8,249.8 475.8,249.5 472.4,249.8 470.3,250.2 468.6,251.1 467.3,255.1 466.7,256.1 465.8,256.9 464.6,257.4 462.6,257.7 459.1,257.5 457.1,257.0 455.9,256.5 452.0,253.1 451.1,252.6 450.5,252.7 447.2,254.1 446.0,254.2 444.7,253.9 443.7,253.3 442.4,251.8 437.6,244.2 436.1,242.3 434.0,240.7 432.3,239.8 430.6,239.2 429.2,239.1 427.9,239.5 424.3,242.0 421.9,243.4 413.4,245.9 410.8,247.0 408.0,248.9 400.8,254.8 398.3,255.8 397.3,255.8 396.6,255.5 395.9,254.7 395.3,253.5 394.3,252.7 387.6,249.6 381.6,247.5 378.1,247.1 372.7,247.8 365.5,249.9 362.3,251.4 354.0,256.0 350.9,256.8 348.1,256.8 343.5,255.8 336.2,254.9 330.0,254.6 324.3,255.1 318.7,256.2 310.2,258.8 307.3,259.4 302.9,259.4 299.0,258.6 296.5,257.3 295.6,256.4 294.8,254.6 294.4,252.3 294.4,248.4 294.9,245.8 295.8,244.5 297.0,243.6 299.2,243.0 305.6,242.4 307.2,241.6 309.5,239.6 312.7,235.4 314.5,231.7 315.1,229.0 314.8,225.4 314.3,223.6 313.4,221.5 309.0,217.4 300.2,203.2 299.3,201.2 299.0,199.9 299.4,195.3 298.7,193.8 297.8,192.7 295.4,191.0 293.9,190.5 291.0,190.2 288.3,190.3 285.8,190.8 283.7,191.7 282.6,192.5 280.1,203.3 278.4,207.8 276.9,209.9 275.2,211.6 264.5,220.0 263.3,221.9 262.7,224.5 262.9,228.1 263.8,231.0 264.5,232.3 267.6,236.1 269.4,238.9 271.3,242.9 272.2,246.5 272.0,249.1 270.9,253.9 270.6,256.2 271.2,262.3 273.8,277.2 273.6,281.1 272.3,287.2 272.1,290.6 272.4,299.1 272.7,300.0 274.4,303.2 274.9,306.7 274.8,313.6 274.3,318.1 273.8,320.2 272.9,322.1 272.2,323.0 270.2,324.3 259.1,326.9 257.5,327.5 257.3,328.1 256.9,332.2 255.7,333.6 254.8,334.0 253.7,334.0 249.2,333.1 245.9,334.0 244.0,335.3 242.9,336.9 242.4,338.3 241.8,341.6 242.0,348.0 243.6,353.6 243.6,354.9 243.2,356.2 241.6,358.3 238.5,360.7 234.6,363.2 230.3,364.9 229.4,366.3 228.8,368.9 228.8,370.5 229.3,372.6 230.4,374.5 231.5,375.4 233.1,376.1 234.4,376.3 242.7,376.9 244.3,377.5 245.2,378.2 245.9,379.2 246.3,380.4 246.4,382.1 246.3,385.6 245.7,390.5 245.6,392.1 247.0,394.2 249.7,399.8 251.8,402.7 252.5,404.3 252.7,405.9 252.5,408.7 252.6,410.0 255.1,417.1 256.3,421.6 256.4,424.6 255.9,426.1 254.1,427.4 251.7,429.5 247.7,432.6 246.0,433.7 244.8,434.1 243.2,434.0 242.0,433.2 241.3,432.2 239.7,428.3 239.3,427.6 238.4,426.9 235.3,425.7 231.6,425.5 222.8,427.6 212.9,428.6 210.4,429.0 209.0,429.6 208.1,430.3 205.6,432.7 203.2,435.4 201.6,436.7 199.2,437.4 195.3,437.6 191.5,436.9 190.2,436.4 189.3,435.7 188.4,434.3 187.3,430.9 186.7,430.2 186.1,429.9 183.9,429.6 177.3,429.1 171.5,427.4 165.5,427.7 162.9,427.4 160.4,426.1 155.4,422.2 152.2,421.3 143.7,420.5 134.0,418.5 129.9,418.3 125.7,418.4 123.3,418.7 121.4,419.4 115.5,424.4 105.8,428.5 102.7,430.4 101.3,431.9 99.3,435.0 97.4,438.9 95.6,443.4 93.0,452.2 91.6,460.6 91.3,465.7 91.8,473.1 93.5,480.6 95.3,485.3 97.0,488.2 99.7,491.8 101.4,493.6 103.3,494.8 109.2,497.3 115.3,498.6 118.5,499.7 121.0,500.9 127.6,504.6 129.9,503.9 132.4,502.5 135.7,499.3 137.4,498.1 139.5,497.6 143.2,497.2 144.4,496.6 147.1,493.9 148.9,491.2 149.9,488.7 150.6,482.5 151.8,475.6 152.0,472.9 151.9,470.7 151.2,467.6 150.5,465.8 149.5,464.3 148.4,463.1 147.1,462.2 144.5,461.1 141.1,460.3 133.7,459.7 131.1,458.8 129.5,457.8 128.2,456.4 127.3,454.7 126.9,453.1 126.9,451.3 127.4,449.3 128.3,447.6 129.6,446.2 131.0,445.3 139.0,442.1 142.7,441.0 145.1,441.0 147.7,441.6 153.7,444.2 157.3,446.3 159.3,446.1 165.0,443.9 166.1,443.7 167.8,443.8 177.3,448.8 179.2,449.5 180.7,450.7 181.6,452.7 181.6,455.6 180.2,465.2 179.6,467.1 178.2,470.1 179.5,473.6 179.6,475.9 178.2,484.3ZM392.9,583.9 395.1,582.4 397.9,581.0 402.6,579.6 404.0,579.4 406.6,579.6 408.8,580.2 411.1,581.4 413.9,583.5 415.9,585.5 417.8,587.9 419.2,590.4 419.8,592.8 419.7,595.3 419.1,597.8 418.0,600.0 416.4,601.8 414.4,603.3 412.0,604.5 408.4,605.6 404.3,606.1 401.3,606.2 398.5,605.8 396.3,604.9 394.7,603.3 393.6,601.4 392.2,597.5 391.7,595.3 391.2,587.1 391.7,585.3ZM277.3,500.7 278.4,500.5 279.9,500.7 281.5,501.2 283.1,502.1 284.5,503.7 286.9,509.0 290.1,509.6 291.0,510.0 291.9,510.8 292.7,512.5 293.1,514.5 293.1,516.7 292.9,518.4 292.1,520.2 291.1,521.8 289.7,523.2 288.2,524.3 285.7,525.4 283.8,525.9 281.9,526.1 278.7,525.4 276.0,524.1 271.6,521.2 270.5,520.1 270.1,519.2 269.9,518.2 270.1,517.0 273.2,511.1 275.4,502.7 276.1,501.5Z" fill="#744a2e" fill-rule="evenodd"/>
<path d="M107.6,496.8 109.4,494.9 110.8,493.0 113.7,488.3 114.6,486.3 115.4,482.8 115.3,479.9 114.4,474.9 113.0,470.0 111.7,467.1 108.6,461.5 107.8,459.0 108.1,456.8 110.4,453.1 111.0,451.0 111.0,448.6 110.3,444.8 108.4,439.8 106.9,437.2 102.3,430.8 99.9,433.9 98.0,437.5 95.6,443.4 94.0,448.6 92.7,453.9 91.6,460.6 91.3,465.7 91.4,469.2 92.2,475.0 93.5,480.6 94.6,483.8 97.0,488.2 99.7,491.8 101.4,493.6 104.2,495.3Z" fill="#2e4b5e"/>
<text x="586" y="84" textLength="130.5" lengthAdjust="spacingAndGlyphs" font-family="Liberation Serif" font-size="13.8" fill="#000" stroke="#000" stroke-width="0.3">BOSS: MEGASPIDER</text>
<polyline points="719,87.7 581.5,87.7 568.49,101.40" fill="none" stroke="#000" stroke-width="3.9" stroke-linejoin="miter" stroke-linecap="round"/><polygon points="560.9,109.4 566.35,94.58 568.13,101.78 575.42,103.19" fill="#000"/>
<text x="705" y="174" textLength="79" lengthAdjust="spacingAndGlyphs" font-family="Liberation Serif" font-size="13.8" fill="#000" stroke="#000" stroke-width="0.3">NPC: TYLER</text>
<polyline points="786,177.1 703.7,177.1 691.88,189.29" fill="none" stroke="#000" stroke-width="3.9" stroke-linejoin="miter" stroke-linecap="round"/><polygon points="684.2,197.2 689.81,182.44 691.51,189.66 698.78,191.14" fill="#000"/>
<text x="319" y="171" textLength="97" lengthAdjust="spacingAndGlyphs" font-family="Liberation Serif" font-size="13.8" fill="#000" stroke="#000" stroke-width="0.3">SERBULE EXIT</text>
<polyline points="421,175.4 316.7,175.4 305.88,185.70" fill="none" stroke="#000" stroke-width="3.9" stroke-linejoin="miter" stroke-linecap="round"/><polygon points="297.9,193.3 304.09,178.77 305.50,186.06 312.71,187.83" fill="#000"/>
<text x="337" y="207" textLength="70" lengthAdjust="spacingAndGlyphs" font-family="Liberation Serif" font-size="13.8" fill="#000" stroke="#000" stroke-width="0.3">NPC: YARA</text>
<polyline points="409,211.1 334.6,211.1 324.28,222.00" fill="none" stroke="#000" stroke-width="3.9" stroke-linejoin="miter" stroke-linecap="round"/><polygon points="316.7,230 322.13,215.17 323.92,222.38 331.21,223.77" fill="#000"/>
<text x="13" y="514" textLength="91" lengthAdjust="spacingAndGlyphs" font-family="Liberation Serif" font-size="13.8" fill="#000" stroke="#000" stroke-width="0.3">NPC: LAWARA</text>
<polyline points="12,516.8 109,516.8 125.16,496.86" fill="none" stroke="#000" stroke-width="3.9" stroke-linejoin="miter" stroke-linecap="round"/><polygon points="132.1,488.3 127.83,503.50 125.49,496.46 118.11,495.63" fill="#000"/>
<text x="325" y="413" textLength="109" lengthAdjust="spacingAndGlyphs" font-family="Liberation Serif" font-size="13.8" fill="#000" stroke="#000" stroke-width="0.3">LORE LOCATION</text>
<polyline points="323,415.8 436.2,415.8 449.67,402.46" fill="none" stroke="#000" stroke-width="4.3" stroke-linejoin="miter" stroke-linecap="round"/><polygon points="457.5,394.7 451.60,409.34 450.04,402.09 442.80,400.46" fill="#000"/>
<text x="580" y="431" textLength="140" lengthAdjust="spacingAndGlyphs" font-family="Liberation Serif" font-size="13.8" fill="#000" stroke="#000" stroke-width="0.3">GORGON: MARONESA</text>
<polyline points="725,434.8 576,434.8 562.33,421.26" fill="none" stroke="#000" stroke-width="3.9" stroke-linejoin="miter" stroke-linecap="round"/><polygon points="554.5,413.5 569.20,419.27 561.96,420.89 560.40,428.15" fill="#000"/>
<text x="656" y="620" textLength="127" lengthAdjust="spacingAndGlyphs" font-family="Liberation Serif" font-size="13.8" fill="#000" stroke="#000" stroke-width="0.3">BUCKET OF GRUEL</text>
<polyline points="786,622.6 654,622.6 641.53,635.95" fill="none" stroke="#000" stroke-width="3.9" stroke-linejoin="miter" stroke-linecap="round"/><polygon points="634,644 639.33,629.14 641.17,636.33 648.47,637.67" fill="#000"/>
<text x="679" y="690" textLength="77" lengthAdjust="spacingAndGlyphs" font-family="Liberation Serif" font-size="13.8" fill="#000" stroke="#000" stroke-width="0.3">NPC: RIGER</text>
<polyline points="760,694 677.3,694 663.17,680.12" fill="none" stroke="#000" stroke-width="3.9" stroke-linejoin="miter" stroke-linecap="round"/><polygon points="655.3,672.4 670.03,678.10 662.79,679.76 661.27,687.02" fill="#000"/>
<text x="739" y="190" font-family="Liberation Serif" font-size="13.8" fill="#000" stroke="#000" stroke-width="0.3" textLength="46" lengthAdjust="spacingAndGlyphs">GREEN</text>
<line x1="436.2" y1="415.8" x2="452.18" y2="428.91" stroke="#000" stroke-width="4.5"/><polygon points="460.7,435.9 445.53,431.54 452.58,429.24 453.45,421.87" fill="#000"/>
<line x1="436.2" y1="415.8" x2="440.12" y2="436.17" stroke="#000" stroke-width="4.5"/><polygon points="442.2,447 433.32,433.94 440.22,436.69 445.60,431.58" fill="#000"/>
<use href="#cow"/>
<use href="#cow" transform="translate(493.1,226.9) scale(0.263)"/>
<g fill="none" stroke="#000" stroke-width="2" stroke-linecap="round"><path d="M537.5,100 Q543.20,104.65 542.1,115.5"/><path d="M549.4,101 Q552.65,111.50 544.1,116.8"/><path d="M524.9,107.2 Q528.90,118.50 538.1,117.8"/><path d="M519.6,118.1 Q528.20,125.10 536.8,120.1"/><path d="M561.3,121.8 Q553.45,115.20 545.4,117.8"/><path d="M556.3,133 Q551.95,119.75 545.4,121.1"/><path d="M531.5,139 Q531.85,122.50 538.8,122.8"/><path d="M543.4,140.3 Q535.85,129.55 540.1,123.4"/></g><ellipse cx="535.5" cy="111.2" rx="4.5" ry="6.2" transform="rotate(-40 535.5 111.2)" fill="#000"/><ellipse cx="541.5" cy="120.5" rx="4.2" ry="5.6" transform="rotate(-40 541.5 120.5)" fill="#000"/><circle cx="544.3" cy="125.6" r="2.5" fill="#000"/>
<g transform="translate(290.5,219.5)"><path d="M1.8,8.5 C1.8,3 5,0.3 11,0.3 C17,0.3 20.2,3 20.2,8.5 L21.8,6.8 L21,10 L20.8,19.5 L18.5,21.5 L16.5,20.8 L15,22.3 L7,22.3 L5.5,20.8 L3.5,21.5 L1.2,19.5 L1,10 L0.2,6.8 Z" fill="#a0a0a0" stroke="#1a1a1a" stroke-width="0.9" stroke-linejoin="round"/><path d="M5.2,8.3 Q8,6.6 11.5,8.2 Q13,9.4 17.4,9.2 L17.6,19.2 L11.5,24.2 L5.2,19.6 Z" fill="#f6d6a2" stroke="#1a1a1a" stroke-width="0.5"/></g>
<g transform="translate(666,201.5)"><path d="M1.8,8.5 C1.8,3 5,0.3 11,0.3 C17,0.3 20.2,3 20.2,8.5 L21.8,6.8 L21,10 L20.8,19.5 L18.5,21.5 L16.5,20.8 L15,22.3 L7,22.3 L5.5,20.8 L3.5,21.5 L1.2,19.5 L1,10 L0.2,6.8 Z" fill="#a0a0a0" stroke="#1a1a1a" stroke-width="0.9" stroke-linejoin="round"/><path d="M5.2,8.3 Q8,6.6 11.5,8.2 Q13,9.4 17.4,9.2 L17.6,19.2 L11.5,24.2 L5.2,19.6 Z" fill="#f6d6a2" stroke="#1a1a1a" stroke-width="0.5"/></g>
<g transform="translate(128.6,467)"><path d="M1.8,8.5 C1.8,3 5,0.3 11,0.3 C17,0.3 20.2,3 20.2,8.5 L21.8,6.8 L21,10 L20.8,19.5 L18.5,21.5 L16.5,20.8 L15,22.3 L7,22.3 L5.5,20.8 L3.5,21.5 L1.2,19.5 L1,10 L0.2,6.8 Z" fill="#a0a0a0" stroke="#1a1a1a" stroke-width="0.9" stroke-linejoin="round"/><path d="M5.2,8.3 Q8,6.6 11.5,8.2 Q13,9.4 17.4,9.2 L17.6,19.2 L11.5,24.2 L5.2,19.6 Z" fill="#f6d6a2" stroke="#1a1a1a" stroke-width="0.5"/></g>
<g transform="translate(634.4,656)"><path d="M1.8,8.5 C1.8,3 5,0.3 11,0.3 C17,0.3 20.2,3 20.2,8.5 L21.8,6.8 L21,10 L20.8,19.5 L18.5,21.5 L16.5,20.8 L15,22.3 L7,22.3 L5.5,20.8 L3.5,21.5 L1.2,19.5 L1,10 L0.2,6.8 Z" fill="#a0a0a0" stroke="#1a1a1a" stroke-width="0.9" stroke-linejoin="round"/><path d="M5.2,8.3 Q8,6.6 11.5,8.2 Q13,9.4 17.4,9.2 L17.6,19.2 L11.5,24.2 L5.2,19.6 Z" fill="#f6d6a2" stroke="#1a1a1a" stroke-width="0.5"/></g>
<circle cx="289.5" cy="206" r="8" fill="#10c8d2" stroke="#000" stroke-width="1.4"/>
<path d="M289.50,206.00 L289.54,206.00 L289.59,206.02 L289.63,206.04 L289.67,206.07 L289.70,206.11 L289.72,206.15 L289.74,206.20 L289.75,206.26 L289.75,206.32 L289.74,206.38 L289.72,206.44 L289.70,206.50 L289.66,206.56 L289.61,206.62 L289.55,206.67 L289.48,206.72 L289.40,206.76 L289.32,206.79 L289.22,206.81 L289.13,206.82 L289.02,206.82 L288.92,206.80 L288.81,206.77 L288.70,206.73 L288.60,206.67 L288.50,206.60 L288.40,206.52 L288.31,206.42 L288.23,206.31 L288.16,206.19 L288.11,206.06 L288.06,205.92 L288.03,205.77 L288.02,205.61 L288.03,205.45 L288.05,205.28 L288.09,205.12 L288.15,204.95 L288.23,204.79 L288.32,204.64 L288.44,204.49 L288.57,204.35 L288.72,204.23 L288.89,204.12 L289.07,204.02 L289.27,203.94 L289.47,203.89 L289.69,203.85 L289.91,203.83 L290.14,203.84 L290.37,203.88 L290.60,203.93 L290.82,204.02 L291.04,204.12 L291.25,204.25 L291.45,204.41 L291.64,204.59 L291.81,204.79 L291.96,205.01 L292.09,205.25 L292.20,205.50 L292.28,205.77 L292.33,206.05 L292.36,206.34 L292.36,206.63 L292.32,206.93 L292.26,207.22 L292.16,207.51 L292.03,207.80 L291.87,208.07 L291.69,208.33 L291.47,208.57 L291.23,208.79 L290.96,208.99 L290.67,209.17 L290.36,209.31 L290.03,209.42 L289.69,209.50 L289.34,209.55 L288.98,209.56 L288.61,209.54 L288.25,209.47 L287.89,209.37 L287.54,209.23 L287.20,209.05 L286.87,208.84 L286.57,208.60 L286.29,208.32 L286.03,208.01 L285.81,207.67 L285.62,207.31 L285.46,206.92 L285.35,206.52 L285.27,206.10 L285.24,205.68 L285.25,205.25 L285.30,204.81 L285.40,204.38 L285.54,203.96 L285.72,203.55 L285.95,203.16 L286.22,202.79 L286.53,202.44 L286.87,202.13 L287.25,201.84 L287.66,201.60 L288.10,201.39 L288.56,201.23 L289.03,201.12 L289.52,201.05 L290.02,201.03 L290.52,201.06 L291.02,201.15 L291.52,201.28 L292.00,201.47 L292.47,201.70 L292.91,201.99 L293.33,202.32 L293.71,202.69 L294.06,203.10 L294.36,203.55 L294.63,204.03 L294.84,204.54 L295.00,205.08 L295.11,205.63 L295.17,206.19 L295.16,206.76 L295.10,207.33 L294.98,207.90 L294.81,208.46 L294.58,209.00 L294.29,209.52 L293.95,210.01 L293.55,210.46 L293.11,210.88 L292.63,211.26 L292.11,211.59" fill="none" stroke="#000" stroke-width="1.4"/>
<line x1="180" y1="455.5" x2="201" y2="461" stroke="#8e0000" stroke-width="3.8"/>
<g stroke="#a89400" stroke-width="0.9" stroke-linejoin="round"><path d="M182.25,476.8 L189.2,480.8 L199.1,474.8 L199.1,482.7 L187.9,487.4 L182.25,484.1 Z" fill="#5c3316"/><path d="M182.25,476.8 Q183,472.5 186.5,471.8 L192.5,469.8 Q197.5,470 199.1,474.8 L189.2,480.8 Q188.5,477 182.25,476.8 Z" fill="#6e3d1a"/><path d="M189.2,480.8 L187.9,487.4" fill="none"/><path d="M186.5,471.8 Q192,472.5 193,477.8 M190,470.8 Q195,471.5 196,476" fill="none" stroke="#3a1e08" stroke-width="0.7"/></g>
<g transform="translate(461,380)"><path d="M0.4,3.6 L0.8,5 L4,10.8 L5.2,11.2 L14,8.4 L21.4,6.4 L21.6,5.4 Z" fill="#a01818"/><path d="M0.4,3.4 L2,1.8 L8.4,1 L10.8,0.2 L14.8,0.2 L21.6,5.6 L14,7.6 L5,10.2 Z" fill="#e8e8e8" stroke="#333" stroke-width="0.6" stroke-linejoin="round"/><path d="M9,1 L13.4,7.6" stroke="#444" stroke-width="0.7"/></g>
<g transform="translate(457,441.4)"><path d="M0.4,3.6 L0.8,5 L4,10.8 L5.2,11.2 L14,8.4 L21.4,6.4 L21.6,5.4 Z" fill="#a01818"/><path d="M0.4,3.4 L2,1.8 L8.4,1 L10.8,0.2 L14.8,0.2 L21.6,5.6 L14,7.6 L5,10.2 Z" fill="#e8e8e8" stroke="#333" stroke-width="0.6" stroke-linejoin="round"/><path d="M9,1 L13.4,7.6" stroke="#444" stroke-width="0.7"/></g>
<g transform="translate(440,452.5)"><path d="M0.4,3.6 L0.8,5 L4,10.8 L5.2,11.2 L14,8.4 L21.4,6.4 L21.6,5.4 Z" fill="#a01818"/><path d="M0.4,3.4 L2,1.8 L8.4,1 L10.8,0.2 L14.8,0.2 L21.6,5.6 L14,7.6 L5,10.2 Z" fill="#e8e8e8" stroke="#333" stroke-width="0.6" stroke-linejoin="round"/><path d="M9,1 L13.4,7.6" stroke="#444" stroke-width="0.7"/></g>
<line x1="458" y1="583.7" x2="465" y2="583.7" stroke="#000" stroke-width="3.6"/>
<line x1="472.5" y1="583.7" x2="481.5" y2="583.7" stroke="#000" stroke-width="3.6"/>
<g><path d="M614,649 Q613,660 619,661 L618,664 L621,662 L627,662 L630,664 L630,661 Q635,660 634,649 Z" fill="#666" stroke="#333" stroke-width="0.8"/><ellipse cx="624" cy="646.5" rx="7.5" ry="2.2" fill="#f08000" stroke="#333" stroke-width="1"/></g>
<circle cx="581" cy="625.6" r="8.6" fill="#f8f25c" stroke="#000" stroke-width="1.5"/>
<text x="581" y="630.5" text-anchor="middle" font-family="Liberation Serif" font-weight="bold" font-size="15.5" fill="#000">1</text>
<circle cx="367" cy="619.2" r="8.6" fill="#f8f25c" stroke="#000" stroke-width="1.5"/>
<text x="367" y="624.1" text-anchor="middle" font-family="Liberation Serif" font-weight="bold" font-size="15.5" fill="#000">2</text>
<circle cx="164.4" cy="460.8" r="8.6" fill="#f8f25c" stroke="#000" stroke-width="1.5"/>
<text x="164.4" y="465.7" text-anchor="middle" font-family="Liberation Serif" font-weight="bold" font-size="15.5" fill="#000">3</text>
<circle cx="261.1" cy="203.2" r="8.6" fill="#f8f25c" stroke="#000" stroke-width="1.5"/>
<text x="261.1" y="208.1" text-anchor="middle" font-family="Liberation Serif" font-weight="bold" font-size="15.5" fill="#000">4</text>
<circle cx="578" cy="146.8" r="8.6" fill="#f8f25c" stroke="#000" stroke-width="1.5"/>
<text x="578" y="151.7" text-anchor="middle" font-family="Liberation Serif" font-weight="bold" font-size="15.5" fill="#000">5</text>
<circle cx="641.6" cy="211.6" r="8.6" fill="#f8f25c" stroke="#000" stroke-width="1.5"/>
<text x="641.6" y="216.5" text-anchor="middle" font-family="Liberation Serif" font-weight="bold" font-size="15.5" fill="#000">6</text>
<circle cx="504.4" cy="437.5" r="8.6" fill="#f8f25c" stroke="#000" stroke-width="1.5"/>
<text x="504.4" y="442.4" text-anchor="middle" font-family="Liberation Serif" font-weight="bold" font-size="15.5" fill="#000">7</text>
<line x1="47" y1="691.8" x2="325" y2="691.8" stroke="#000" stroke-width="7.5" stroke-linecap="round"/>
<line x1="47" y1="725" x2="325" y2="725" stroke="#000" stroke-width="7.5" stroke-linecap="round"/>
<text x="50" y="715" textLength="272" lengthAdjust="spacingAndGlyphs" font-family="Liberation Serif" font-size="22.5" fill="#111" stroke="#111" stroke-width="0.25">Notus&#39;s Notes: Tutorial Cave</text>
</svg>
</body></html>
